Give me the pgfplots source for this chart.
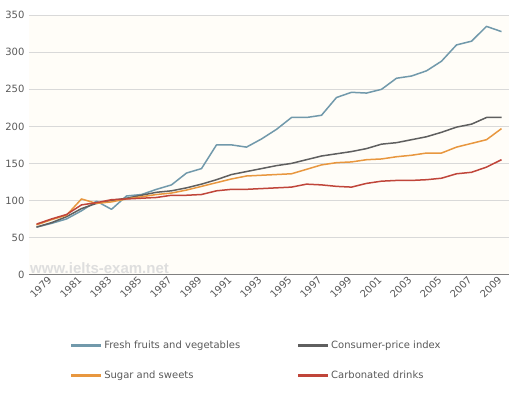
\documentclass[border=0pt]{standalone}
\usepackage{fontspec}
\setmainfont{DejaVu Sans}
\newfontfamily\wmfont{Liberation Sans}
\usepackage{pgfplots}
\pgfplotsset{compat=1.18}
\definecolor{cBlue}{HTML}{7199AB}
\definecolor{cGrey}{HTML}{5F5F5F}
\definecolor{cOrange}{HTML}{E8973F}
\definecolor{cRed}{HTML}{C0453A}
\definecolor{cBg}{HTML}{FFFDF8}
\definecolor{cGrid}{HTML}{D9D9D9}
\definecolor{cText}{HTML}{595959}
\begin{document}
\begin{tikzpicture}[x=1pt,y=1pt]
\useasboundingbox (0,0) rectangle (512,406);
\begin{axis}[
  at={(29pt,131.5pt)}, anchor=south west,
  scale only axis, width=480pt, height=259.2pt,
  xmin=1978.5, xmax=2010.5, ymin=0, ymax=350,
  xtick={1979,1981,...,2009}, ytick={0,50,...,350},
  /pgf/number format/1000 sep={},
  /pgf/number format/assume math mode=true,
  tick label style={font=\fontsize{10}{12}\selectfont, text=cText},
  xticklabel style={rotate=45, anchor=north east, inner sep=1pt, xshift=8pt, yshift=-7pt},
  yticklabel style={xshift=-1pt},
  axis line style={draw=none},
  tick style={draw=none},
  ymajorgrids, grid style={draw=cGrid, line width=0.8pt},
  extra y ticks={0}, extra y tick labels={},
  extra y tick style={grid style={draw=gray, line width=1.3pt}},
  axis background/.style={fill=cBg},
  legend columns=2, legend cell align=left,
  legend style={draw=none, fill=none, at={(0.0845,-0.247)}, anchor=north west,
    font=\fontsize{10}{12}\selectfont, text=cText, row sep=17.5pt, inner sep=0pt,
    nodes={inner xsep=1.5pt},
    /tikz/every even column/.append style={column sep=55pt}},
  legend image code/.code={\draw[#1, line width=3pt] (0pt,0pt) -- (30pt,0pt);},
  every axis plot/.append style={line width=1.5pt, line join=round, mark=none},
]
\node[anchor=base west, inner sep=0pt, font=\wmfont\bfseries\fontsize{15}{15}\selectfont, text=gray!26] at (axis cs:1978.57,1) {www.ielts-exam.net};
\addplot[cBlue] coordinates {
(1979,64) (1980,69) (1981,75) (1982,86) (1983,99) (1984,88) (1985,106) (1986,108)
(1987,115) (1988,121) (1989,137) (1990,143) (1991,175) (1992,175) (1993,172) (1994,183)
(1995,196) (1996,212) (1997,212) (1998,215) (1999,239) (2000,246) (2001,245) (2002,250)
(2003,265) (2004,268) (2005,275) (2006,288) (2007,310) (2008,315) (2009,335) (2010,328)};
\addlegendentry{Fresh fruits and vegetables}
\addplot[cGrey] coordinates {
(1979,64) (1980,70) (1981,78) (1982,89) (1983,96) (1984,100) (1985,103) (1986,107)
(1987,111) (1988,113) (1989,117) (1990,122) (1991,128) (1992,135) (1993,139) (1994,143)
(1995,147) (1996,150) (1997,155) (1998,160) (1999,163) (2000,166) (2001,170) (2002,176)
(2003,178) (2004,182) (2005,186) (2006,192) (2007,199) (2008,203) (2009,212) (2010,212)};
\addlegendentry{Consumer-price index}
\addplot[cOrange] coordinates {
(1979,67) (1980,74) (1981,80) (1982,102) (1983,96) (1984,98) (1985,102) (1986,105)
(1987,108) (1988,110) (1989,114) (1990,119) (1991,124) (1992,129) (1993,133) (1994,134)
(1995,135) (1996,136) (1997,142) (1998,148) (1999,151) (2000,152) (2001,155) (2002,156)
(2003,159) (2004,161) (2005,164) (2006,164) (2007,172) (2008,177) (2009,182) (2010,197)};
\addlegendentry{Sugar and sweets}
\addplot[cRed] coordinates {
(1979,68) (1980,75) (1981,81) (1982,94) (1983,97) (1984,101) (1985,102) (1986,103)
(1987,104) (1988,107) (1989,107) (1990,108) (1991,113) (1992,115) (1993,115) (1994,116)
(1995,117) (1996,118) (1997,122) (1998,121) (1999,119) (2000,118) (2001,123) (2002,126)
(2003,127) (2004,127) (2005,128) (2006,130) (2007,136) (2008,138) (2009,145) (2010,155)};
\addlegendentry{Carbonated drinks}
\end{axis}
\end{tikzpicture}
\end{document}
